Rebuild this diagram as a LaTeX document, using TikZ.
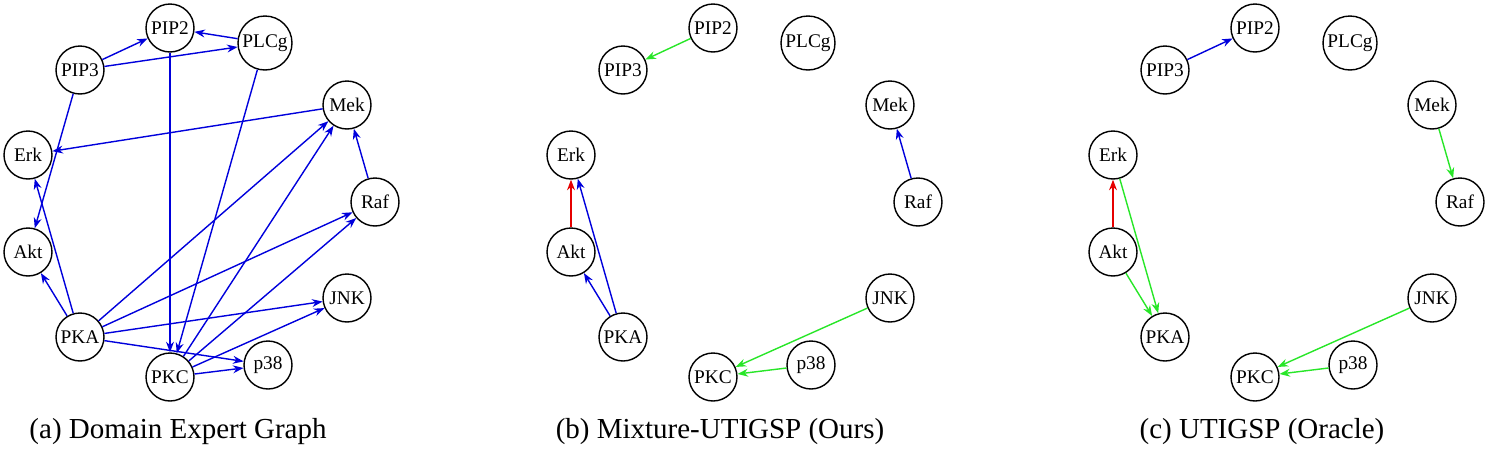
\documentclass[tikz,border=0pt]{standalone}
\usepackage{fontspec}
\setmainfont{Liberation Serif}
\usetikzlibrary{arrows.meta}
\definecolor{eb}{RGB}{0,0,220}
\definecolor{eg}{RGB}{40,230,40}
\definecolor{er}{RGB}{230,0,0}
\begin{document}
\begin{tikzpicture}[x=0.02cm,y=-0.02cm,
  nd/.style={circle,draw,thick,minimum size=0.96cm,inner sep=0pt,font=\fontsize{11}{12}\selectfont},
  ed/.style={-{Stealth[length=6pt,width=4.5pt]},thick},
  captext/.style={font=\fontsize{16.5}{18}\selectfont}]
\useasboundingbox (0,0) rectangle (1488,451);
\foreach \p/\o in {a/0,b/543,c/1085}{
  \node[nd] (\p PIP2) at (170+\o,28) {PIP2};
  \node[nd,minimum size=1.08cm] (\p PLCg) at (265+\o,43) {PLCg};
  \node[nd] (\p PIP3) at (80+\o,70) {PIP3};
  \node[nd] (\p Mek) at (347+\o,105) {Mek};
  \node[nd] (\p Erk) at (28+\o,155) {Erk};
  \node[nd] (\p Raf) at (375+\o,202) {Raf};
  \node[nd] (\p Akt) at (28+\o,252) {Akt};
  \node[nd] (\p JNK) at (347+\o,298) {JNK};
  \node[nd] (\p PKA) at (80+\o,337) {PKA};
  \node[nd] (\p PKC) at (170+\o,377) {PKC};
  \node[nd] (\p p38) at (268+\o,365) {p38};
}
\node[captext] (capa) at (178,432) {(a) Domain Expert Graph};
\node[captext] (capb) at (720,432) {(b) Mixture-UTIGSP (Ours)};
\node[captext] (capc) at (1262,432) {(c) UTIGSP (Oracle)};
\begin{scope}[eb,ed]
\draw (aPLCg) -- (aPIP2);
\draw (aPIP3) -- (aPIP2);
\draw (aPIP3) -- (aPLCg);
\draw (aPIP3) -- (aAkt);
\draw (aMek) -- (aErk);
\draw (aRaf) -- (aMek);
\draw (aPIP2) -- (aPKC);
\draw (aPLCg) -- (aPKC);
\draw (aPKA) -- (aErk);
\draw (aPKA) -- (aAkt);
\draw (aPKA) -- (aMek);
\draw (aPKA) -- (aRaf);
\draw (aPKA) -- (aJNK);
\draw (aPKA) -- (ap38);
\draw (aPKC) -- (aMek);
\draw (aPKC) -- (aRaf);
\draw (aPKC) -- (aJNK);
\draw (aPKC) -- (ap38);
\draw (bRaf) -- (bMek);
\draw (bPKA) -- (bErk);
\draw (bPKA) -- (bAkt);
\draw (cPIP3) -- (cPIP2);
\end{scope}
\begin{scope}[eg,ed]
\draw (bPIP2) -- (bPIP3);
\draw (bJNK) -- (bPKC);
\draw (bp38) -- (bPKC);
\draw (cMek) -- (cRaf);
\draw (cErk) -- (cPKA);
\draw (cAkt) -- (cPKA);
\draw (cJNK) -- (cPKC);
\draw (cp38) -- (cPKC);
\end{scope}
\begin{scope}[er,ed]
\draw (bAkt) -- (bErk);
\draw (cAkt) -- (cErk);
\end{scope}
\end{tikzpicture}
\end{document}
